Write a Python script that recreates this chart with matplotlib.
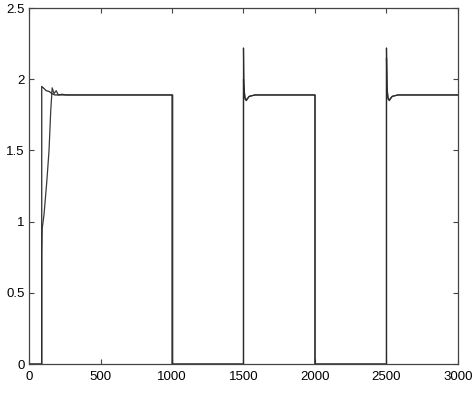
"""
Step response of two controllers over three pulses
Output: out.png
"""

import matplotlib.pyplot as plt

# Fast response (rises straight to the set level)
t_fast = [0, 89, 89, 100, 120, 140, 160, 180, 220, 300, 1000, 1000,
          1500, 1500, 1503, 1510, 1518, 1540, 1580, 2000, 2000,
          2500, 2500, 2503, 2510, 2518, 2540, 2580, 3000]
y_fast = [0, 0, 1.95, 1.94, 1.92, 1.915, 1.90, 1.89, 1.89, 1.89, 1.89, 0,
          0, 2.22, 1.95, 1.87, 1.855, 1.88, 1.89, 1.89, 0,
          0, 2.22, 1.95, 1.87, 1.855, 1.88, 1.89, 1.89]

# Slow response (ramps up from about 0.8)
t_slow = [0, 89, 89, 92, 105, 125, 140, 152, 162, 175, 190, 205, 230, 260,
          1005, 1005,
          1500, 1500, 1504, 1512, 1520, 1540, 1580, 2000, 2000,
          2500, 2500, 2504, 2512, 2520, 2540, 2580, 3000]
y_slow = [0, 0, 0.78, 0.95, 1.05, 1.29, 1.50, 1.78, 1.94, 1.90, 1.92, 1.89, 1.895, 1.89,
          1.89, 0,
          0, 2.00, 1.92, 1.86, 1.85, 1.88, 1.89, 1.89, 0,
          0, 2.15, 1.93, 1.86, 1.85, 1.88, 1.89, 1.89]

x_ticks = [0, 500, 1000, 1500, 2000, 2500, 3000]
y_ticks = [0, 0.5, 1, 1.5, 2, 2.5]
y_tick_labels = ["0", "0.5", "1", "1.5", "2", "2.5"]

plt.rcParams["font.family"] = ["Liberation Sans", "DejaVu Sans"]

fig = plt.figure(figsize=(4.74, 4.05), dpi=100)
ax = fig.add_axes([0.0612, 0.101, 0.905, 0.879])

ax.plot(t_slow, y_slow, color="#3a3a3a", linewidth=0.9)
ax.plot(t_fast, y_fast, color="#2a2a2a", linewidth=0.9)

ax.set_xlim(0, 3000)
ax.set_ylim(0, 2.5)
ax.set_xticks(x_ticks)
ax.set_yticks(y_ticks)
ax.set_yticklabels(y_tick_labels)

# MATLAB-like inward ticks on all four sides
ax.tick_params(direction="in", length=3.5, width=0.8, labelsize=9.5,
               top=True, right=True, color="#444444")
ax.tick_params(axis="x", pad=5)
ax.tick_params(axis="y", pad=3)
for s in ax.spines.values():
    s.set_linewidth(0.9)
    s.set_color("#444444")

plt.savefig("out.png", dpi=100)
